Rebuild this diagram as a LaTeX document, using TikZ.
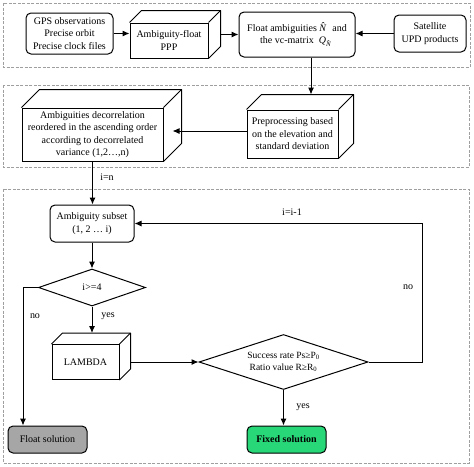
\documentclass[tikz,border=0pt]{standalone}
\usepackage{fontspec}
\setmainfont{Liberation Serif}
\usetikzlibrary{shapes.geometric,arrows.meta,calc}
\definecolor{fixg}{RGB}{40,215,120}
\definecolor{floatg}{RGB}{166,166,166}
\newcommand\mycube[2]{%
  \draw[line width=1pt, line join=round] (#1.north west) -- ++(#2pt,#2pt) -- ([shift={(#2pt,#2pt)}]#1.north east) -- ([shift={(#2pt,#2pt)}]#1.south east) -- (#1.south east);
  \draw[line width=1pt] (#1.north east) -- ++(#2pt,#2pt);}
\begin{document}
\begin{tikzpicture}[x=1pt,y=-1pt, font=\fontsize{10}{12.5}\selectfont,
 dashbox/.style={draw=gray!75, line width=0.8pt, dash pattern=on 3pt off 1.5pt},
 rbox/.style={draw, rounded corners=5pt, line width=1pt, align=center, inner sep=0pt},
 fbox/.style={draw, line width=1pt, align=center, inner sep=0pt, fill=white},
 dia/.style={draw, diamond, line width=1pt, align=center, inner sep=0pt, aspect=3},
 arr/.style={line width=1pt, -{Latex[length=7pt,width=6pt]}},
 lab/.style={inner sep=0pt}]
\useasboundingbox (0,0) rectangle (474,466);
\draw[dashbox] (3,3) rectangle (470,67);
\draw[dashbox] (3,85) rectangle (469,167);
\draw[dashbox] (3,189) rectangle (469,463);

\node[rbox, minimum width=87pt, minimum height=41pt] (gps) at (69.5,33.5) {GPS observations\\Precise orbit\\Precise clock files};
\node[fbox, minimum width=78pt, minimum height=35pt] (ppp) at (169,40.5) {Ambiguity-float\\PPP};
\mycube{ppp}{12}
\node[rbox, minimum width=116pt, minimum height=45pt] (flt) at (297,34.5) {Float ambiguities \textit{N̂} and\\the vc-matrix\ \ \textit{Q}\textsubscript{\textit{N̂}}};
\node[rbox, minimum width=72pt, minimum height=37pt] (sat) at (430,33.5) {Satellite\\UPD products};
\node[fbox, minimum width=91pt, minimum height=48pt] (pre) at (292.5,134) {Preprocessing based\\on the elevation and\\standard deviation};
\mycube{pre}{15}
\node[fbox, minimum width=141pt, minimum height=53pt] (dec) at (92.5,134.5) {Ambiguities decorrelation\\reordered in the ascending order\\according to decorrelated\\variance (1,2…,n)};
\mycube{dec}{18}
\node[rbox, minimum width=84pt, minimum height=37pt] (sub) at (92,223.5) {Ambiguity subset\\(1, 2 … i)};
\node[dia, minimum width=107pt, minimum height=37pt] (d1) at (92,287.5) {i>=4};
\node[fbox, minimum width=67pt, minimum height=35pt] (lam) at (85.5,362) {LAMBDA};
\mycube{lam}{11}
\node[dia, minimum width=169pt, minimum height=55pt, font=\fontsize{9.5}{12}\selectfont] (d2) at (283.5,362) {Success rate Ps≥P\textsubscript{0}\\Ratio value R≥R\textsubscript{0}};
\node[rbox, fill=floatg, minimum width=79pt, minimum height=27pt] (fs) at (47.5,439.5) {Float solution};
\node[rbox, fill=fixg, minimum width=79pt, minimum height=27pt, font=\fontsize{10}{12.5}\selectfont\bfseries] (fx) at (286.5,439.5) {Fixed solution};

\draw[arr] (gps.east) -- (gps.east -| ppp.west);
\coordinate (pppr) at ([xshift=12pt]ppp.east);
\draw[arr] (pppr |- flt.west) -- (flt.west);
\draw[arr] (sat.west) -- (sat.west -| flt.east);
\coordinate (fltb) at ([xshift=14pt]flt.south);
\coordinate (pretop) at ([yshift=15pt]pre.north);
\draw[arr] (fltb) -- (fltb |- pretop);
\coordinate (decs) at ([xshift=9pt]dec.east);
\coordinate (prew) at ([yshift=3pt]pre.west);
\draw[arr] (prew) -- (decs |- prew);
\draw[arr] (dec.south) -- (dec.south |- sub.north);
\node[lab] at (107,177) {i=n};
\draw[arr] (sub.south) -- (d1.north);
\coordinate (lamt) at ([xshift=5.5pt, yshift=11pt]lam.north);
\draw[arr] (d1.south) -- (d1.south |- lamt);
\coordinate (fsl) at ([xshift=-24.5pt]fs.north);
\draw[arr] (d1.west) -| (fsl);
\coordinate (laml) at ([xshift=11pt]lam.east);
\draw[arr] (laml) -- (d2.west);
\draw[arr] (d2.east) -- ++(54,0) |- (sub.east);
\draw[arr] (d2.south) -- (d2.south |- fx.north);
\node[lab] at (35,316) {no};
\node[lab] at (108,316) {yes};
\node[lab] at (292,212) {i=i-1};
\node[lab] at (408,287) {no};
\node[lab] at (303,407) {yes};
\end{tikzpicture}
\end{document}
